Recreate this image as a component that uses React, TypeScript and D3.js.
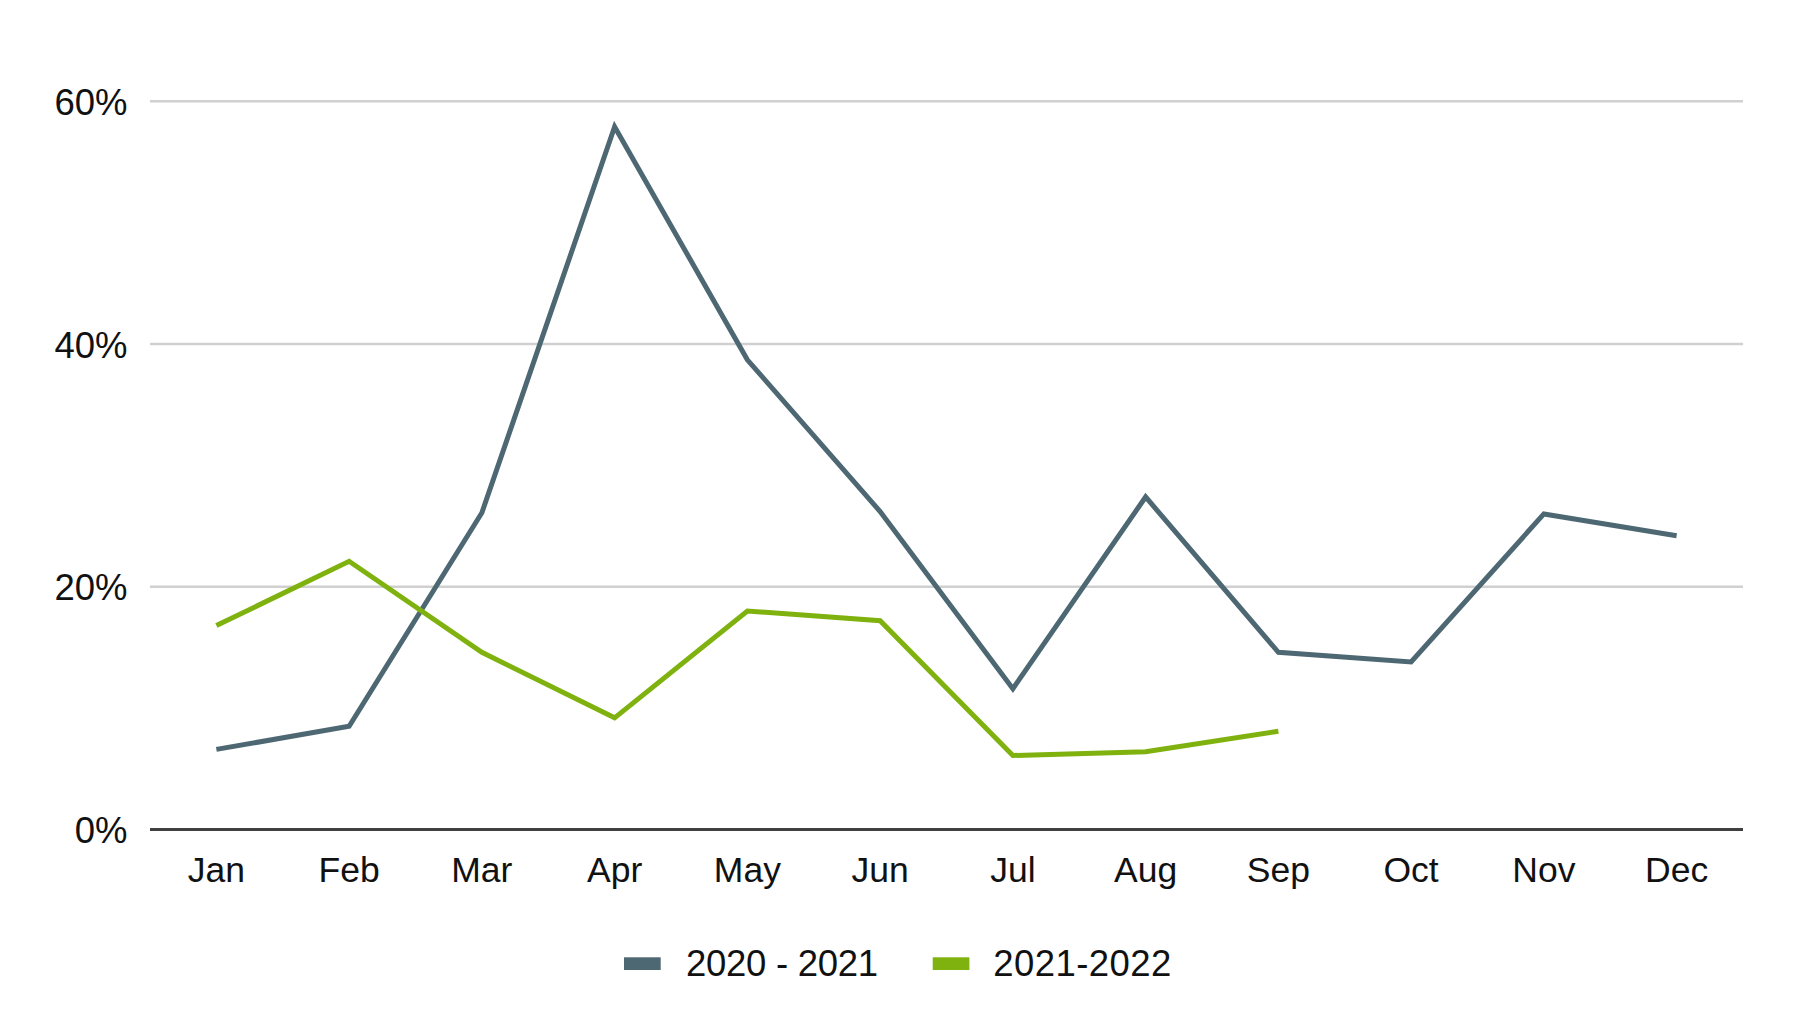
import React from "react";
import * as d3 from "d3";

const months = ["Jan", "Feb", "Mar", "Apr", "May", "Jun", "Jul", "Aug", "Sep", "Oct", "Nov", "Dec"];
const series2020: (number | null)[] = [6.6, 8.5, 26.1, 57.9, 38.7, 26.2, 11.6, 27.4, 14.6, 13.8, 26.0, 24.2];
const series2021: (number | null)[] = [16.8, 22.1, 14.6, 9.2, 18.0, 17.2, 6.1, 6.4, 8.1, null, null, null];
const yTicks = [0, 20, 40, 60];
const seriesNames = ["2020 - 2021", "2021-2022"];
const seriesColors = ["#4d6873", "#7fb20e"];

const W = 1800;
const H = 1031;
const left = 150;
const right = 1743;
const top = 101.3;
const bottom = 829.5;
const font = "'Liberation Sans', Arial, Helvetica, sans-serif";

export default function App() {
  const x = d3.scaleBand<string>().domain(months).range([left, right]);
  const y = d3.scaleLinear().domain([0, 60]).range([bottom, top]);
  const line = d3
    .line<number | null>()
    .defined((d) => d !== null)
    .x((_, i) => (x(months[i]) as number) + x.bandwidth() / 2)
    .y((d) => y(d as number));

  const allSeries = [series2020, series2021];
  const legendItems = [
    { rx: 624, tx: 686, tw: 192 },
    { rx: 932.7, tx: 993.3, tw: 178 },
  ];

  return (
    <svg width={W} height={H} style={{ position: "absolute", left: 0, top: 0, background: "#fff" }}>
      <rect x={0} y={0} width={W} height={H} fill="#fff" />
      {yTicks.filter((t) => t !== 0).map((t) => (
        <line key={t} x1={left} x2={right} y1={y(t)} y2={y(t)} stroke="#d0d0d0" strokeWidth={2.5} />
      ))}
      <line x1={left} x2={right} y1={y(0)} y2={y(0)} stroke="#404040" strokeWidth={2.8} />
      {yTicks.map((t) => (
        <text key={t} x={127.5} y={y(t) + 13.5} textAnchor="end" fontFamily={font} fontSize={36.5} fill="#111">
          {`${t}%`}
        </text>
      ))}
      {months.map((m) => (
        <text
          key={m}
          x={(x(m) as number) + x.bandwidth() / 2}
          y={882}
          textAnchor="middle"
          fontFamily={font}
          fontSize={35.5}
          fill="#111"
        >
          {m}
        </text>
      ))}
      {allSeries.map((s, i) => (
        <path
          key={i}
          d={line(s) || ""}
          fill="none"
          stroke={seriesColors[i]}
          strokeWidth={5}
          strokeLinejoin="miter"
          strokeLinecap="butt"
        />
      ))}
      {seriesNames.map((n, i) => (
        <g key={n}>
          <rect x={legendItems[i].rx} y={957.3} width={36.7} height={12.7} fill={seriesColors[i]} />
          <text
            x={legendItems[i].tx}
            y={975.5}
            fontFamily={font}
            fontSize={36.5}
            fill="#111"
            textLength={legendItems[i].tw}
            lengthAdjust="spacing"
          >
            {n}
          </text>
        </g>
      ))}
    </svg>
  );
}
